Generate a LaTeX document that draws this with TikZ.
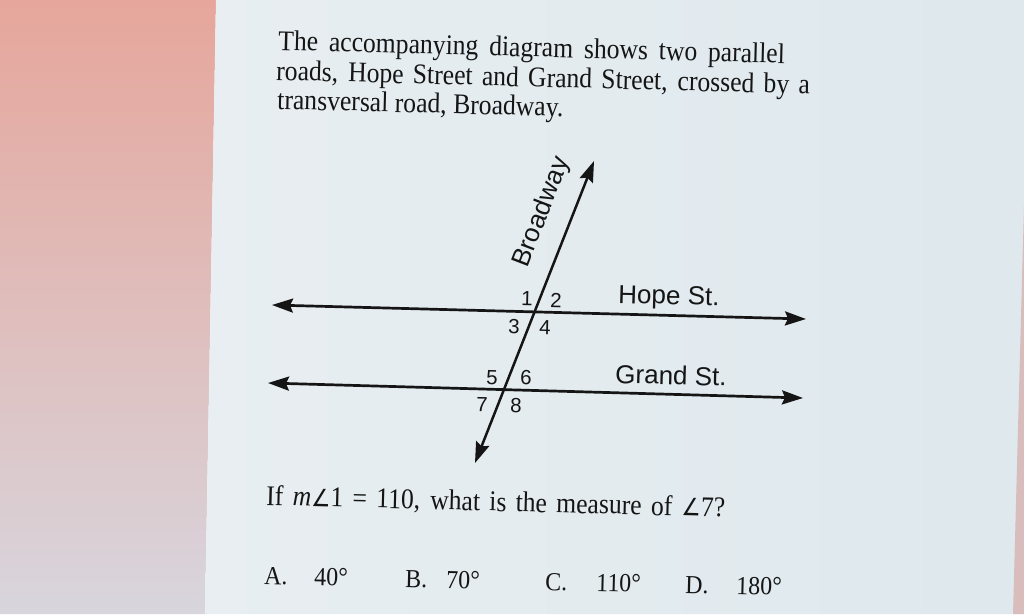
\documentclass[tikz,border=0pt]{standalone}
\usepackage{fontspec}
\setmainfont{Liberation Serif}
\newfontfamily\hv{Liberation Sans}
\newfontfamily\djs{DejaVu Sans}
\usetikzlibrary{arrows.meta}
\definecolor{bandtop}{HTML}{E6A69B}
\definecolor{bandbot}{HTML}{D8D5DD}
\definecolor{pageL}{HTML}{E8EEF1}
\definecolor{pageR}{HTML}{DEE8ED}
\definecolor{sliver}{HTML}{D9BDBD}
\definecolor{ink}{HTML}{151515}
\begin{document}
\begin{tikzpicture}[x=1pt,y=-1pt,
  road/.style={line width=2.7pt, draw=ink,
    arrows={Stealth[length=21pt,width=14pt,inset=3pt]-Stealth[length=21pt,width=14pt,inset=3pt]}},
  body/.style={anchor=base west, inner sep=0pt, rotate=-1.5, xscale=0.9, text=ink,
    font=\fontsize{28.5}{30}\selectfont},
  ans/.style={anchor=base west, inner sep=0pt, rotate=-1.5, xscale=0.92, text=ink,
    font=\fontsize{26}{28}\selectfont},
  num/.style={inner sep=0pt, rotate=-1.5, text=ink, font=\hv\fontsize{20.5}{20.5}\selectfont},
  street/.style={anchor=base west, inner sep=0pt, rotate=-1.5, text=ink,
    font=\hv\fontsize{26}{26}\selectfont}]
\useasboundingbox (0,0) rectangle (1024,614);
% background
\shade[top color=bandtop, bottom color=bandbot] (0,0) -- (216,0) -- (205,614) -- (0,614) -- cycle;
\shade[left color=pageL, right color=pageR] (216,0) -- (1024,0) -- (1024,614) -- (205,614) -- cycle;
\fill[sliver] (1024,205) -- (1024,614) -- (1013,614) -- cycle;
% intro text
\node[body] (t1) at (278,50) {\makebox[563pt][s]{The accompanying diagram shows two parallel}};
\node[body] (t2) at (276,80) {\makebox[593pt][s]{roads, Hope Street and Grand Street, crossed by a}};
\node[body] (t3) at (277,109) {transversal road, Broadway.};
% roads
\coordinate (hL) at (272,305);
\coordinate (hR) at (806,319);
\coordinate (gL) at (268,383);
\coordinate (gR) at (803,398);
\coordinate (bT) at (594,161);
\coordinate (bB) at (475,463);
\draw[road] (hL) -- (hR);
\draw[road] (gL) -- (gR);
\draw[road, line width=2.5pt] (bB) -- (bT);
% angle numbers
\node[num] (n1) at (527,299) {1};
\node[num] (n2) at (556,300) {2};
\node[num] (n3) at (514,327) {3};
\node[num] (n4) at (545,328) {4};
\node[num] (n5) at (492,378) {5};
\node[num] (n6) at (526,378) {6};
\node[num] (n7) at (482,405) {7};
\node[num] (n8) at (516,406) {8};
% street names
\node[street] (hope) at (618,303) {Hope St.};
\node[street] (grand) at (615,383) {Grand St.};
\node[inner sep=0pt, text=ink, rotate=69, font=\hv\fontsize{26}{26}\selectfont] (bway) at (542,212) {Broadway};
% question
\node[body] (q) at (266,505) {\makebox[510pt][s]{If {\itshape m}{\djs\fontsize{24}{24}\selectfont∠}1 = 110, what is the measure of {\djs\fontsize{24}{24}\selectfont∠}7?}};
% answers
\node[ans] (aA) at (264,584) {A.};
\node[ans] (aA2) at (314,585) {40°};
\node[ans] (aB) at (405,587) {B.};
\node[ans] (aB2) at (446,588) {70°};
\node[ans] (aC) at (545,590) {C.};
\node[ans] (aC2) at (596,591) {110°};
\node[ans] (aD) at (685,593) {D.};
\node[ans] (aD2) at (736,594) {180°};
\end{tikzpicture}
\end{document}
